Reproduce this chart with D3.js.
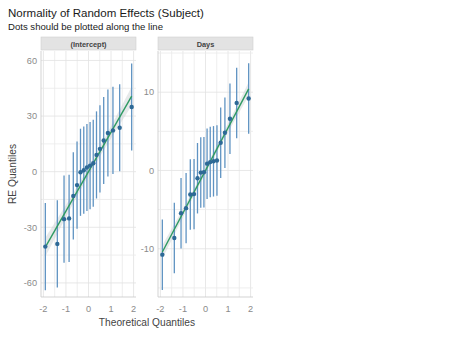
<!DOCTYPE html>
<html><head><meta charset="utf-8">
<script src="https://cdn.jsdelivr.net/npm/d3@7"></script>
<style>body{margin:0;background:#fff}svg{display:block}text{font-family:"Liberation Sans",Arial,sans-serif}</style>
</head><body><svg id="c" width="474" height="338"></svg>
<script>
// theoretical normal quantiles for 18 subjects
const theoretical = [-1.915,-1.383,-1.085,-0.861,-0.674,-0.508,-0.355,-0.210,-0.070,0.070,0.210,0.355,0.508,0.674,0.861,1.085,1.383,1.915];
// sorted random effects
const interceptRE = [-40.40,-38.96,-25.61,-25.21,-13.07,-7.23,-0.33,0.81,2.26,3.28,4.58,9.04,12.31,16.84,20.86,22.26,23.69,34.89];
const daysRE = [-10.75,-8.62,-5.45,-4.81,-3.07,-3.02,-0.99,-0.27,-0.22,0.87,1.07,1.17,1.28,3.54,4.82,6.61,8.63,9.20];
// error bar half-widths (1.96 * conditional SD)
const interceptErr = 23.5;
const daysErr = 4.5;
const facets = ["(Intercept)","Days"];
const xTicks = [-2,-1,0,1,2];
const interceptTicks = [-60,-30,0,30,60];
const daysTicks = [-10,0,10];

(function(){
const svg = d3.select("#c");
function fitText(sel, target){
  const fs = +sel.attr("font-size");
  const w = sel.node().getComputedTextLength();
  if (w > 0) sel.attr("font-size", (fs*target/w).toFixed(2));
}
const title = svg.append("text").attr("x",8).attr("y",17).attr("font-size",12).attr("fill","#1a1a1a").text("Normality of Random Effects (Subject)");
fitText(title, 196);
const sub = svg.append("text").attr("x",8).attr("y",30).attr("font-size",9.6).attr("fill","#1a1a1a").text("Dots should be plotted along the line");
fitText(sub, 155);

const pTop = 51, pBottom = 297, stripTop = 37;
const panels = [
  {name:facets[0], x0:41, x1:136, vals:interceptRE, err:interceptErr, ydom:[-67.6,65.1], ticks:interceptTicks, minor:[-45,-15,15,45]},
  {name:facets[1], x0:158, x1:253, vals:daysRE, err:daysErr, ydom:[-16.16,15.26], ticks:daysTicks, minor:[-15,-5,5,15]}
];

function lmFit(xs, ys){
  const n=xs.length, mx=d3.mean(xs), my=d3.mean(ys);
  let sxx=0,sxy=0; xs.forEach((x,i)=>{sxx+=(x-mx)**2; sxy+=(x-mx)*(ys[i]-my);});
  const b=sxy/sxx, a=my-b*mx;
  let sse=0; xs.forEach((x,i)=>{sse+=(ys[i]-a-b*x)**2;});
  const s=Math.sqrt(sse/(n-2));
  return {a,b,s,mx,sxx,n};
}

panels.forEach(p=>{
  const g = svg.append("g");
  const x = d3.scaleLinear().domain([-2.107,2.107]).range([p.x0,p.x1]);
  const y = d3.scaleLinear().domain(p.ydom).range([pBottom,pTop]);
  // strip
  g.append("rect").attr("x",p.x0).attr("y",stripTop).attr("width",p.x1-p.x0).attr("height",pTop-stripTop-1)
    .attr("fill","#e3e3e3").attr("stroke","#cfcfcf").attr("stroke-width",0.6);
  g.append("text").attr("x",(p.x0+p.x1)/2).attr("y",stripTop+10).attr("text-anchor","middle")
    .attr("font-size",7.4).attr("font-weight","bold").attr("fill","#444").text(p.name);
  // grid
  const gx=[-2,-1.5,-1,-0.5,0,0.5,1,1.5,2];
  g.selectAll(null).data(gx).join("line").attr("x1",d=>x(d)).attr("x2",d=>x(d)).attr("y1",pTop).attr("y2",pBottom)
    .attr("stroke",d=>Number.isInteger(d)?"#e2e2e2":"#eaeaea").attr("stroke-width",0.8);
  g.selectAll(null).data(p.ticks.concat(p.minor)).join("line").attr("x1",p.x0).attr("x2",p.x1).attr("y1",d=>y(d)).attr("y2",d=>y(d))
    .attr("stroke",d=>p.ticks.includes(d)?"#e2e2e2":"#eaeaea").attr("stroke-width",0.8);
  // axis lines
  g.append("line").attr("x1",p.x0).attr("x2",p.x0).attr("y1",pTop).attr("y2",pBottom).attr("stroke","#c8c8c8").attr("stroke-width",0.8);
  g.append("line").attr("x1",p.x0).attr("x2",p.x1).attr("y1",pBottom).attr("y2",pBottom).attr("stroke","#c8c8c8").attr("stroke-width",0.8);
  // tick labels
  g.selectAll(null).data(xTicks).join("text").attr("x",d=>x(d)).attr("y",pBottom+15).attr("text-anchor","middle")
    .attr("font-size",9.2).attr("fill","#8a8a8a").text(d=>d<0?"-"+Math.abs(d):d);
  g.selectAll(null).data(p.ticks).join("text").attr("x",p.x0-4).attr("y",d=>y(d)+3.3).attr("text-anchor","end")
    .attr("font-size",9.2).attr("fill","#8a8a8a").text(d=>d<0?"-"+Math.abs(d):d);
  // regression
  const f = lmFit(theoretical, p.vals);
  const t = 2.12;
  const xs = d3.range(0,81).map(i=>theoretical[0]+(theoretical[17]-theoretical[0])*i/80);
  const band = xs.map(xv=>{const fit=f.a+f.b*xv; const se=f.s*Math.sqrt(1/f.n+(xv-f.mx)**2/f.sxx); return [xv,fit-t*se,fit+t*se];});
  g.append("path").attr("d",d3.area().x(d=>x(d[0])).y0(d=>y(d[1])).y1(d=>y(d[2]))(band))
    .attr("fill","#c8cfd0").attr("opacity",0.45);
  // error bars
  g.selectAll(null).data(p.vals).join("line").attr("x1",(d,i)=>x(theoretical[i])).attr("x2",(d,i)=>x(theoretical[i]))
    .attr("y1",d=>y(d-p.err)).attr("y2",d=>y(d+p.err)).attr("stroke","#5f93c2").attr("stroke-width",1.3);
  // line
  g.append("line").attr("x1",x(theoretical[0])).attr("x2",x(theoretical[17]))
    .attr("y1",y(f.a+f.b*theoretical[0])).attr("y2",y(f.a+f.b*theoretical[17]))
    .attr("stroke","#2e9a62").attr("stroke-width",1.4);
  // points
  g.selectAll(null).data(p.vals).join("circle").attr("cx",(d,i)=>x(theoretical[i])).attr("cy",d=>y(d))
    .attr("r",2.2).attr("fill","#2d6996");
});

svg.append("text").attr("x",147).attr("y",326).attr("text-anchor","middle").attr("font-size",10.2).attr("fill","#444").text("Theoretical Quantiles");
svg.append("text").attr("transform","translate(16,174) rotate(-90)").attr("text-anchor","middle").attr("font-size",10.2).attr("fill","#444").text("RE Quantiles");
})();
</script></body></html>
